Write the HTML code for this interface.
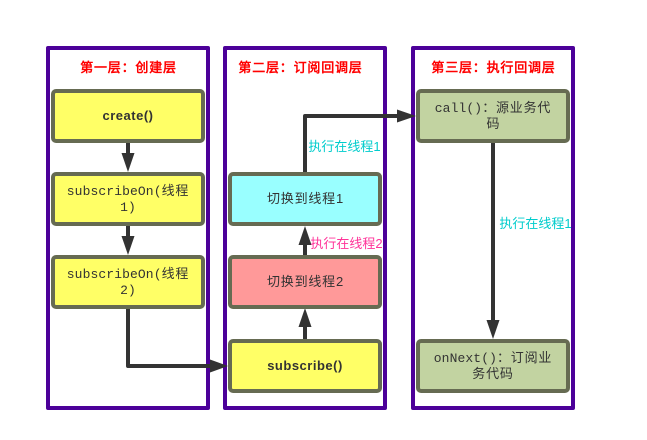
<!DOCTYPE html>
<html>
<head>
<meta charset="utf-8">
<style>
html,body{margin:0;padding:0;background:#fff;width:647px;height:440px;overflow:hidden}
svg{display:block}
.cjk{font-family:"Liberation Sans","WenQuanYi Zen Hei",sans-serif}
.mono{font-family:"Liberation Mono","WenQuanYi Zen Hei",monospace;font-size:13px;fill:#333;letter-spacing:.1px}
.mono tspan{letter-spacing:.8px}
.h{font-size:13px;font-weight:bold;fill:#ff0000;letter-spacing:.8px}
.b{font-family:"Liberation Sans",sans-serif;font-size:13px;font-weight:bold;fill:#333;letter-spacing:.5px}
.n{font-size:13px;fill:#333;letter-spacing:.8px}
.l{font-size:13px;letter-spacing:0}
</style>
</head>
<body>
<svg width="647" height="440" viewBox="0 0 647 440" xmlns="http://www.w3.org/2000/svg">
<rect width="647" height="440" fill="#fff"/>
<g fill="#fff" stroke="#4c0099" stroke-width="4" stroke-linejoin="round">
<rect x="48" y="48" width="160" height="360"/>
<rect x="225" y="48" width="160" height="360"/>
<rect x="413" y="48" width="160" height="360"/>
</g>
<g fill="none" stroke="#333" stroke-width="4" stroke-linejoin="round">
<path d="M128 141V155"/>
<path d="M128 224V238"/>
<path d="M128 307V366H212"/>
<path d="M305 341V322"/>
<path d="M305 257V240"/>
<path d="M305 174V116H398"/>
<path d="M493 141V323"/>
</g>
<g fill="#333">
<path d="M121.500 153H134.500L128 172Z"/>
<path d="M121.500 236H134.500L128 255Z"/>
<path d="M210 359.500V372.500L228 366Z"/>
<path d="M298.500 327H311.500L305 308Z"/>
<path d="M298.500 245H311.500L305 226Z"/>
<path d="M397 109.500V122.500L416 116Z"/>
<path d="M486.500 320H499.500L493 339Z"/>
</g>
<g stroke="#666b52" stroke-width="4" stroke-linejoin="round">
<rect x="53" y="91" width="150" height="50" rx="3" fill="#ffff66"/>
<rect x="53" y="174" width="150" height="50" rx="3" fill="#ffff66"/>
<rect x="53" y="257" width="150" height="50" rx="3" fill="#ffff66"/>
<rect x="230" y="174" width="150" height="50" rx="3" fill="#99ffff"/>
<rect x="230" y="257" width="150" height="50" rx="3" fill="#ff9999"/>
<rect x="230" y="341" width="150" height="50" rx="3" fill="#ffff66"/>
<rect x="418" y="91" width="150" height="50" rx="3" fill="#c2d3a1"/>
<rect x="418" y="341" width="150" height="50" rx="3" fill="#c2d3a1"/>
</g>
<g class="cjk" text-anchor="middle">
<text class="h" x="128.500" y="72">第一层：创建层</text>
<text class="h" x="300.500" y="72">第二层：订阅回调层</text>
<text class="h" x="493.500" y="72">第三层：执行回调层</text>
<text class="b" x="128" y="120">create()</text>
<text class="mono" x="128" y="195">subscribeOn(<tspan>线程</tspan></text>
<text class="mono" x="128" y="211">1)</text>
<text class="mono" x="128" y="278">subscribeOn(<tspan>线程</tspan></text>
<text class="mono" x="128" y="294">2)</text>
<text class="n" x="305.500" y="203">切换到线程1</text>
<text class="n" x="305.500" y="286">切换到线程2</text>
<text class="b" x="305" y="370">subscribe()</text>
<text class="mono" x="493" y="112">call()<tspan>：源业务代</tspan></text>
<text class="mono" x="493" y="128">码</text>
<text class="mono" x="493" y="362">onNext()<tspan>：订阅业</tspan></text>
<text class="mono" x="493" y="378"><tspan>务代码</tspan></text>
<text class="l" x="344.500" y="151" fill="#00cccc">执行在线程1</text>
<text class="l" x="346.500" y="248" fill="#ff3399">执行在线程2</text>
<text class="l" x="535.500" y="228" fill="#00cccc">执行在线程1</text>
</g>
</svg>
</body>
</html>
